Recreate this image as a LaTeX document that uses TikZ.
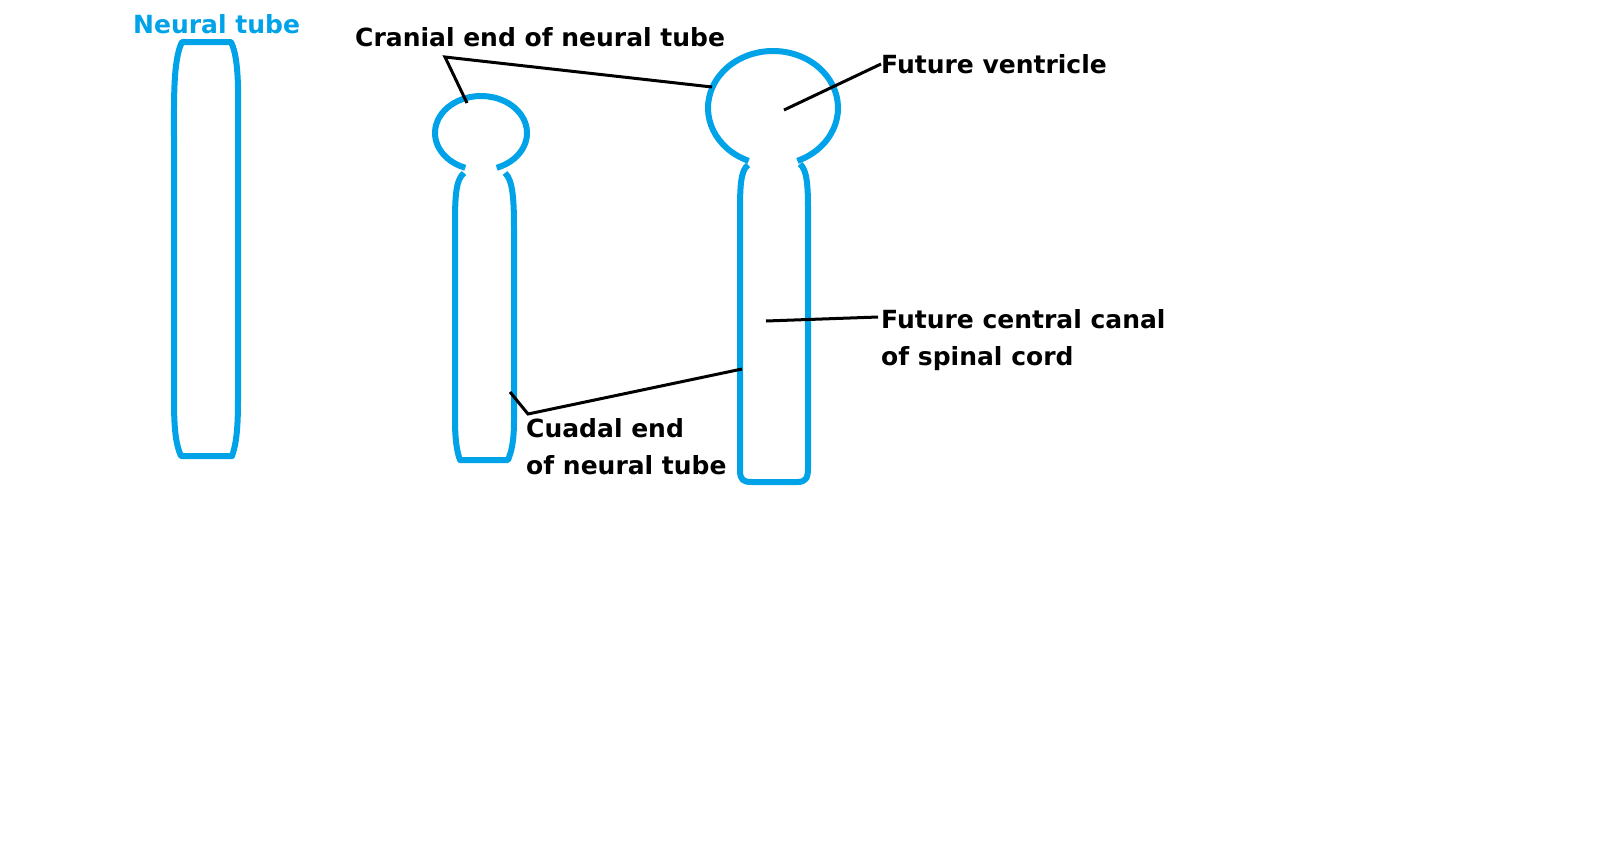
\documentclass[tikz,border=0pt]{standalone}
\usepackage{fontspec}
\setmainfont{DejaVu Sans}
\begin{document}
\begin{tikzpicture}[x=1pt,y=-1pt,
  tube/.style={draw={rgb,255:red,0;green,162;blue,232},line width=6pt,line join=round},
  lead/.style={draw=black,line width=3pt},
  lab/.style={font=\bfseries\fontsize{25}{37}\selectfont,anchor=west,inner sep=0pt,align=left}]
\useasboundingbox (0,0) rectangle (1600,844);
\fill[white] (0,0) rectangle (1600,844);
% tube 1
\path[tube] (182,42) -- (231,42) .. controls (240,60) and (238,100) .. (238,140) -- (238,400) .. controls (238,430) and (236,445) .. (232,456) -- (181,456) .. controls (176,445) and (174,430) .. (174,400) -- (174,140) .. controls (174,100) and (173,60) .. (182,42) -- cycle;
% tube 2
\path[tube] ([shift={(110:46 and 37)}]481,133) arc[start angle=110,end angle=430,x radius=46,y radius=37];
\path[tube] (464,173) .. controls (455,180) and (455,200) .. (455,230) -- (455,420) .. controls (455,440) and (457,452) .. (460,460) -- (508,460) .. controls (512,450) and (514,440) .. (514,420) -- (514,230) .. controls (514,200) and (513,180) .. (505,173);
% tube 3
\path[tube] ([shift={(112:65 and 57)}]773,108) arc[start angle=112,end angle=428,x radius=65,y radius=57];
\path[tube] (748,165) .. controls (741,170) and (740,185) .. (740,210) -- (740,470) .. controls (740,480) and (743,482) .. (752,482) -- (797,482) .. controls (806,482) and (808,478) .. (808,468) -- (808,210) .. controls (808,185) and (807,170) .. (800,164);
% labels
\node[lab,text={rgb,255:red,0;green,162;blue,232}] (nt) at (133,24) {Neural tube};
\node[lab] (cr) at (355,37) {Cranial end of neural tube};
\node[lab] (fv) at (881,64) {Future ventricle};
\node[lab] (cc) at (881,340) {Future central canal\\of spinal cord};
\node[lab] (cd) at (526,447) {Cuadal end\\of neural tube};
% leaders
\coordinate (c1) at (445,57); \coordinate (h2) at (467,103); \coordinate (h3) at (712,87);
\draw[lead] (h2) -- (c1) -- (h3);
\coordinate (v) at (784,110); \draw[lead] (fv.west) -- (v);
\coordinate (cc1) at (766,321); \draw[lead] (878,317) -- (cc1);
\coordinate (k) at (528,414); \coordinate (b2) at (510,392); \coordinate (b3) at (742,369);
\draw[lead] (b2) -- (k) -- (b3);
\end{tikzpicture}
\end{document}
